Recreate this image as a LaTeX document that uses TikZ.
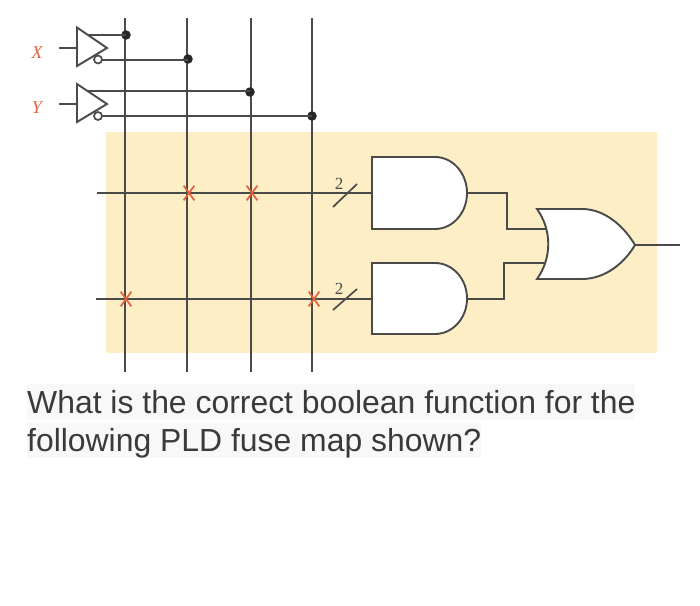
\documentclass[tikz,border=0pt]{standalone}
\usepackage{fontspec}
\setmainfont{Liberation Sans}
\newfontfamily\serifit{Liberation Serif}
\usetikzlibrary{shapes.misc}
\definecolor{panel}{HTML}{FDEEC6}
\definecolor{wire}{HTML}{4A4A48}
\definecolor{fuse}{HTML}{E2613F}
\definecolor{capt}{HTML}{3A3A3A}
\definecolor{capbg}{HTML}{F8F8F8}
\tikzset{
  wireline/.style={draw=wire,line width=2pt},
  busmark/.style={draw=wire,line width=1.7pt},
  gate/.style={draw=wire,line width=1.9pt,fill=white,line join=miter},
  junction/.style={circle,fill=black!85,inner sep=0pt,minimum size=9.5pt},
  bubble/.style={circle,inner sep=0pt,minimum size=8pt,draw=wire,line width=1.7pt,fill=white},
  fusemark/.style={cross out,draw=fuse,line width=1.7pt,inner sep=0pt,minimum width=9pt,minimum height=13pt},
  inlabel/.style={text=fuse,font=\serifit\itshape\fontsize{18}{18}\selectfont,inner sep=0pt},
  buslabel/.style={text=wire,font=\serifit\fontsize{17}{17}\selectfont,inner sep=0pt},
  caption/.style={text=capt,font=\fontsize{31.9}{31.9}\selectfont,inner sep=0pt,anchor=base west,fill=capbg,text depth=7pt,text height=29pt}
}
\begin{document}
\begin{tikzpicture}[x=1pt,y=-1pt]
\useasboundingbox (0,0) rectangle (700,605);
\fill[white] (0,0) rectangle (700,605);
\fill[panel] (106,132) rectangle (657,353);
% coordinates
\coordinate (v1t) at (125,18); \coordinate (v1b) at (125,372);
\coordinate (v2t) at (187,18); \coordinate (v2b) at (187,372);
\coordinate (v3t) at (251,18); \coordinate (v3b) at (251,372);
\coordinate (v4t) at (312,18); \coordinate (v4b) at (312,372);
\coordinate (h1s) at (97,193);  \coordinate (h1e) at (372,193);
\coordinate (h2s) at (96,299);  \coordinate (h2e) at (372,299);
% grid
\foreach \n in {1,2,3,4} \draw[wireline] (v\n t) -- (v\n b);
\draw[wireline] (h1s) -- (h1e);
\draw[wireline] (h2s) -- (h2e);
% buffers
\coordinate (xin) at (59,48);
\coordinate (xa) at (77,48);
\coordinate (yin) at (59,104);
\coordinate (ya) at (77,104);
\node[junction] (j1) at (126,35) {};
\node[junction] (j2) at (188,59) {};
\node[junction] (j3) at (250,92) {};
\node[junction] (j4) at (312,116) {};
\coordinate (xt) at (88,35);
\coordinate (yt) at (88,91);
\coordinate (xbc) at (98,59.5);
\coordinate (ybc) at (98,116);
\draw[wireline] (xin) -- (xa);
\draw[wireline] (yin) -- (ya);
\draw[wireline] (xt) -- (xt -| j1);
\draw[wireline] (yt) -- (yt -| j3);
\draw[wireline] (xbc) -- (xbc -| j2);
\draw[wireline] (ybc) -- (ybc -| j4);
\draw[gate,fill=none] (77,27.5) -- (107,48) -- (77,66) -- cycle;
\draw[gate,fill=none] (77,84) -- (107,104) -- (77,122) -- cycle;
\node[bubble] (xb) at (xbc) {};
\node[bubble] (yb) at (ybc) {};
\node[inlabel] (lx) at (37,53) {X};
\node[inlabel] (ly) at (37,108) {Y};
% fuses
\node[fusemark] (f1) at (189,193) {};
\node[fusemark] (f2) at (252,193) {};
\node[fusemark] (f3) at (126,299) {};
\node[fusemark] (f4) at (314,299) {};
% bus marks
\draw[busmark] (333,207) -- (357,184);
\draw[busmark] (333,310) -- (357,289);
\node[buslabel] (b1) at (339,184) {2};
\node[buslabel] (b2) at (339,289) {2};
% AND gates
\draw[gate] (372,157) -- (435,157) arc[start angle=90,end angle=-90,x radius=32,y radius=-36] -- (372,229) -- cycle;
\draw[gate] (372,263) -- (435,263) arc[start angle=90,end angle=-90,x radius=32,y radius=-35.5] -- (372,334) -- cycle;
\coordinate (a1o) at (467,193);
\coordinate (a2o) at (467,299);
\coordinate (o1) at (547,229);
\coordinate (o2) at (547,263);
\coordinate (op) at (635,245);
\coordinate (oe) at (680,245);
\draw[wireline] (a1o) -| (507,229) -- (o1);
\draw[wireline] (a2o) -| (504,263) -- (o2);
\draw[wireline] (op) -- (oe);
% OR gate
\draw[gate] (537,209) -- (582,209) .. controls (606,209) and (625,228) .. (635,245)
  .. controls (625,262) and (606,279) .. (582,279) -- (537,279)
  .. controls (552,258) and (552,230) .. cycle;
% caption
\node[caption] (c1) at (27,413) {What is the correct boolean function for the};
\node[caption] (c2) at (27,451) {following PLD fuse map shown?};
\end{tikzpicture}
\end{document}
